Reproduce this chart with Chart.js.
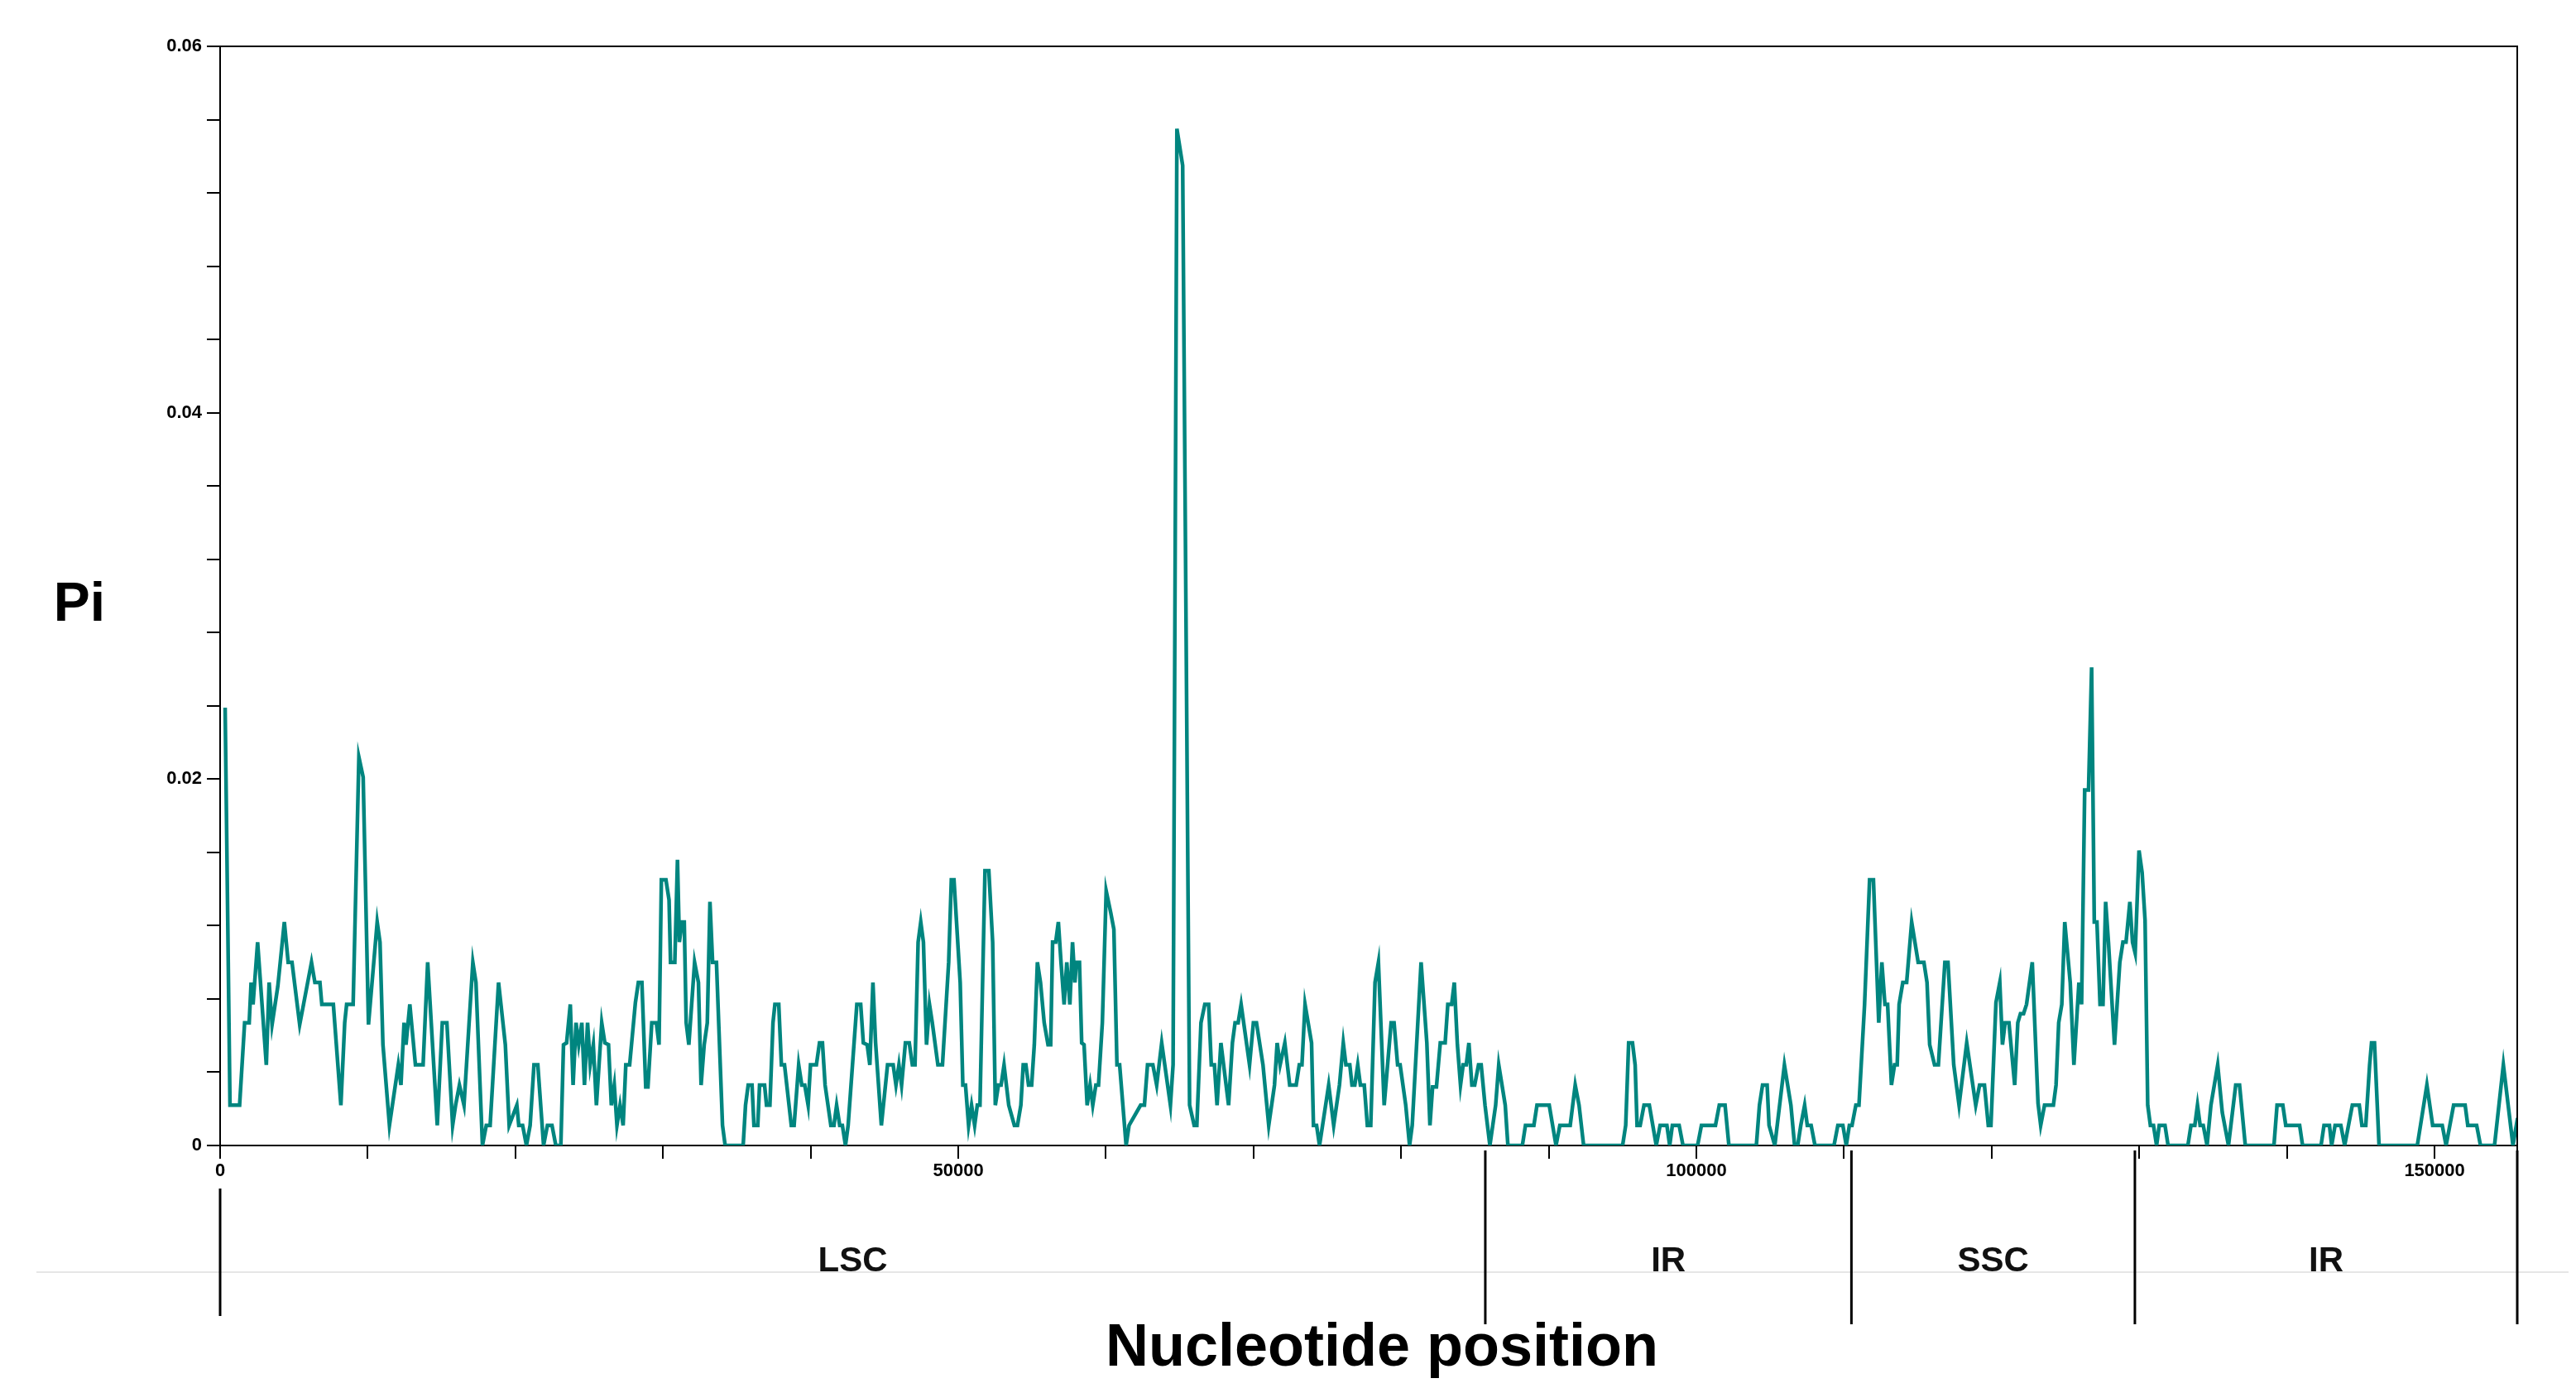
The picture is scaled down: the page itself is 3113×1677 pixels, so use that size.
<!DOCTYPE html>
<html><head><meta charset="utf-8">
<script src="https://cdn.jsdelivr.net/npm/chart.js@4"></script>
<style>html,body{margin:0;padding:0;background:#fff}#wrap{width:3113px;height:1677px;position:relative}</style>
</head><body><div id="wrap"><canvas id="c"></canvas></div>
<script>
// sliding-window nucleotide diversity: position (kb) and Pi
const positionKb = [0.34,0.67,1.32,1.66,1.97,2.10,2.23,2.54,3.13,3.32,3.52,3.91,4.35,4.61,4.87,5.39,5.65,6.19,6.42,6.76,6.89,7.67,8.18,8.44,8.57,9.01,9.40,9.69,10.05,10.64,10.83,11.03,11.47,12.07,12.25,12.46,12.59,12.85,13.23,13.75,14.06,14.71,15.05,15.36,15.75,15.95,16.21,16.52,17.12,17.33,17.77,18.03,18.29,18.86,19.32,19.58,20.10,20.23,20.49,20.75,21.00,21.26,21.52,21.91,22.17,22.48,22.74,23.08,23.26,23.47,23.72,23.91,24.11,24.29,24.50,24.68,24.89,25.07,25.28,25.49,25.85,26.06,26.31,26.50,26.70,26.88,27.09,27.30,27.48,27.74,28.13,28.33,28.57,28.83,28.98,29.24,29.55,29.73,29.89,30.20,30.41,30.51,30.80,30.98,31.11,31.29,31.44,31.57,31.75,32.14,32.40,32.58,32.79,33.00,33.18,33.36,33.62,34.03,34.21,35.43,35.59,35.77,36.03,36.16,36.42,36.54,36.88,37.01,37.24,37.45,37.58,37.84,38.02,38.23,38.69,38.88,39.19,39.40,39.60,39.83,39.99,40.25,
40.39,40.60,40.80,40.98,41.37,41.58,41.76,41.97,42.15,42.36,42.54,43.13,43.39,43.57,43.83,44.01,44.22,44.40,44.79,45.21,45.59,45.78,45.98,46.16,46.42,46.68,46.89,47.07,47.28,47.46,47.64,47.85,48.05,48.24,48.62,48.93,49.35,49.53,49.71,50.13,50.31,50.49,50.70,50.90,51.11,51.29,51.47,51.81,52.07,52.33,52.51,52.72,52.90,53.10,53.42,53.80,54.01,54.24,54.40,54.58,54.76,54.97,55.15,55.36,55.57,55.82,56.08,56.26,56.39,56.60,56.78,56.96,57.17,57.35,57.56,57.74,57.90,58.00,58.21,58.36,58.52,58.73,58.93,59.11,59.32,59.50,59.76,60.02,60.33,60.54,60.75,60.93,61.37,61.57,62.35,62.61,62.82,63.18,63.44,63.78,64.37,64.55,64.81,65.20,65.67,65.98,66.16,66.44,66.70,66.96,67.14,67.35,67.53,67.79,68.31,68.57,68.75,68.96,69.16,69.73,69.99,70.20,70.64,71.03,71.42,71.60,71.80,72.12,72.45,72.89,73.10,73.28,73.49,73.93,74.06,74.27,74.47,75.09,75.43,75.82,76.08,76.26,76.52,76.67,76.86,77.06,77.24,77.50,77.71,77.94,78.23,78.46,78.85,79.32,79.52,79.76,
79.93,80.31,80.57,80.75,81.35,81.74,81.95,82.13,82.39,82.65,82.98,83.16,83.42,83.60,83.81,84.02,84.20,84.41,84.59,84.79,84.98,85.24,85.42,85.68,86.01,86.40,86.61,87.05,87.23,88.21,88.42,88.99,89.20,90.03,90.49,90.75,91.45,91.79,92.05,92.36,95.00,95.21,95.41,95.67,95.85,95.98,96.19,96.45,96.81,97.28,97.54,98.00,98.19,98.37,98.83,99.09,100.08,100.34,101.29,101.55,101.94,102.20,104.06,104.27,104.48,104.79,104.92,105.31,105.96,106.40,106.65,106.86,107.07,107.33,107.51,107.77,108.03,109.32,109.58,109.92,110.15,110.36,110.54,110.80,111.01,111.39,111.73,111.99,112.35,112.56,112.77,112.95,113.21,113.42,113.60,113.73,113.98,114.24,114.58,115.02,115.41,115.62,115.80,116.13,116.39,116.83,117.04,117.43,117.79,118.31,
118.92,119.18,119.51,119.77,119.95,120.29,120.55,120.73,120.91,121.17,121.56,121.77,121.95,122.16,122.36,122.75,123.14,123.32,123.58,124.18,124.36,124.54,124.75,124.95,125.32,125.57,125.91,126.09,126.30,126.56,126.77,126.95,127.13,127.34,127.54,127.72,127.91,128.32,128.68,128.89,129.10,129.36,129.54,129.72,129.98,130.19,130.39,130.57,130.75,130.96,131.17,131.35,131.74,131.95,133.29,133.50,133.76,133.94,134.12,134.33,134.59,134.85,135.31,135.62,136.04,136.53,136.79,137.18,139.12,139.33,139.72,139.92,140.86,141.06,142.31,142.51,142.88,143.03,143.26,143.65,143.91,144.43,144.90,145.08,145.34,145.60,145.73,145.93,146.24,148.83,149.48,149.87,150.52,150.78,151.29,152.07,152.25,152.85,153.11,154.06,154.66,155.31,155.62];
const piValues = [0.0239,0.0022,0.0022,0.0067,0.0067,0.0089,0.0077,0.0111,0.0044,0.0089,0.0066,0.0087,0.0122,0.0100,0.0100,0.0066,0.0077,0.0100,0.0089,0.0089,0.0077,0.0077,0.0022,0.0067,0.0077,0.0077,0.0212,0.0201,0.0066,0.0122,0.0111,0.0055,0.0011,0.0044,0.0033,0.0067,0.0055,0.0077,0.0044,0.0044,0.0100,0.0011,0.0067,0.0067,0.0011,0.0022,0.0033,0.0022,0.0100,0.0089,0,0.0011,0.0011,0.0089,0.0055,0.0011,0.0022,0.0011,0.0011,0,0.0011,0.0044,0.0044,0,0.0011,0.0011,0,0,0.0055,0.0056,0.0077,0.0033,0.0067,0.0055,0.0067,0.0033,0.0067,0.0044,0.0055,0.0022,0.0067,0.0056,0.0055,0.0022,0.0033,0.0011,0.0022,0.0011,0.0044,0.0044,0.0078,0.0089,0.0089,0.0032,0.0032,0.0067,0.0067,0.0055,0.0145,0.0145,0.0134,0.0100,0.0100,0.0156,0.0111,0.0122,0.0122,0.0067,0.0055,0.0100,0.0089,0.0033,0.0055,0.0067,0.0133,0.0100,0.0100,0.0011,0,0,0.0022,0.0033,0.0033,0.0011,0.0011,0.0033,0.0033,0.0022,0.0022,0.0067,0.0077,0.0077,0.0044,0.0044,0.0011,0.0011,0.0044,0.0033,0.0033,0.0022,0.0044,0.0044,
0.0044,0.0056,0.0056,0.0033,0.0011,0.0011,0.0022,0.0011,0.0011,0,0.0011,0.0077,0.0077,0.0056,0.0055,0.0044,0.0089,0.0056,0.0011,0.0044,0.0044,0.0033,0.0044,0.0033,0.0056,0.0056,0.0044,0.0044,0.0111,0.0122,0.0111,0.0055,0.0077,0.0067,0.0044,0.0044,0.0100,0.0145,0.0145,0.0089,0.0033,0.0033,0.0011,0.0022,0.0011,0.0022,0.0022,0.0150,0.0150,0.0111,0.0022,0.0033,0.0033,0.0044,0.0022,0.0011,0.0011,0.0022,0.0044,0.0044,0.0033,0.0033,0.0055,0.0100,0.0089,0.0067,0.0055,0.0055,0.0111,0.0111,0.0122,0.0100,0.0077,0.0100,0.0077,0.0111,0.0089,0.0100,0.0100,0.0056,0.0055,0.0022,0.0033,0.0022,0.0033,0.0033,0.0067,0.0139,0.0127,0.0118,0.0044,0.0044,0,0.0011,0.0022,0.0022,0.0044,0.0044,0.0033,0.0056,0.0022,0.0044,0.0555,0.0535,0.0022,0.0011,0.0011,0.0067,0.0077,0.0077,0.0044,0.0044,0.0022,0.0056,0.0022,0.0056,0.0067,0.0067,0.0077,0.0044,0.0067,0.0067,0.0044,0.0011,0.0033,0.0056,0.0044,0.0056,0.0033,0.0033,0.0044,0.0044,0.0077,0.0056,0.0011,0.0011,0,0.0033,0.0011,0.0033,0.0056,0.0044,0.0044,0.0033,0.0033,0.0044,0.0033,0.0033,0.0011,0.0011,0.0089,0.0100,0.0022,0.0067,0.0067,0.0044,
0.0044,0.0022,0,0.0011,0.0100,0.0056,0.0011,0.0032,0.0032,0.0056,0.0056,0.0077,0.0077,0.0089,0.0055,0.0033,0.0044,0.0044,0.0056,0.0033,0.0033,0.0044,0.0044,0.0022,0,0.0022,0.0044,0.0022,0,0,0.0011,0.0011,0.0022,0.0022,0,0.0011,0.0011,0.0033,0.0022,0,0,0.0011,0.0056,0.0056,0.0044,0.0011,0.0011,0.0022,0.0022,0,0.0011,0.0011,0,0.0011,0.0011,0,0,0.0011,0.0011,0.0022,0.0022,0,0,0.0022,0.0033,0.0033,0.0011,0,0.0044,0.0022,0,0,0.0011,0.0022,0.0011,0.0011,0,0,0.0011,0.0011,0,0.0011,0.0011,0.0022,0.0022,0.0077,0.0145,0.0145,0.0067,0.0100,0.0077,0.0077,0.0033,0.0044,0.0044,0.0077,0.0089,0.0089,0.0122,0.0100,0.0100,0.0089,0.0055,0.0044,0.0044,0.0100,0.0100,0.0044,0.0022,0.0056,
0.0022,0.0033,0.0033,0.0011,0.0011,0.0078,0.0089,0.0055,0.0067,0.0067,0.0033,0.0067,0.0072,0.0072,0.0077,0.0100,0.0023,0.0011,0.0022,0.0022,0.0033,0.0067,0.0077,0.0122,0.0089,0.0044,0.0089,0.0077,0.0194,0.0194,0.0261,0.0122,0.0122,0.0077,0.0077,0.0133,0.0111,0.0055,0.0100,0.0111,0.0111,0.0133,0.0111,0.0105,0.0161,0.0149,0.0123,0.0022,0.0011,0.0011,0,0.0011,0.0011,0,0,0.0011,0.0011,0.0022,0.0011,0.0011,0,0.0022,0.0044,0.0018,0,0.0033,0.0033,0,0,0.0022,0.0022,0.0011,0.0011,0,0,0.0011,0.0011,0,0.0011,0.0011,0,0.0022,0.0022,0.0011,0.0011,0.0044,0.0056,0.0056,0,0,0.0033,0.0011,0.0011,0,0.0022,0.0022,0.0011,0.0011,0,0,0.0044,0,0.0015];
const regionBoundsKb = [0, 85.7, 110.5, 129.7, 155.6];
const regionLabels = ['LSC', 'IR', 'SSC', 'IR'];
const xMajorLabelsKb = [0, 50, 100, 150];
const yMajorLabels = [0, 0.02, 0.04, 0.06];

const points = positionKb.map((x, i) => ({x, y: piValues[i]}));
const FONT = '"Liberation Sans", Arial, sans-serif';

const annot = {
  id: 'annot',
  afterDraw(chart) {
    const ctx = chart.ctx, xs = chart.scales.x, ca = chart.chartArea;
    ctx.save();
    // top & right frame
    ctx.strokeStyle = '#000'; ctx.lineWidth = 2;
    ctx.beginPath(); ctx.moveTo(ca.left, ca.top); ctx.lineTo(ca.right, ca.top); ctx.lineTo(ca.right, ca.bottom); ctx.stroke();
    // faint separator
    ctx.strokeStyle = '#e6e6e6'; ctx.lineWidth = 2;
    ctx.beginPath(); ctx.moveTo(44, 1537); ctx.lineTo(3104, 1537); ctx.stroke();
    // region boundaries
    ctx.strokeStyle = '#000'; ctx.lineWidth = 3;
    regionBoundsKb.forEach((b, i) => {
      const px = xs.getPixelForValue(b);
      ctx.beginPath(); ctx.moveTo(px, i === 0 ? 1436 : 1390); ctx.lineTo(px, i === 0 ? 1590 : 1600); ctx.stroke();
    });
    ctx.fillStyle = '#111'; ctx.font = 'bold 42px ' + FONT;
    ctx.textAlign = 'center'; ctx.textBaseline = 'middle';
    regionLabels.forEach((l, i) => {
      const px = xs.getPixelForValue((regionBoundsKb[i] + regionBoundsKb[i + 1]) / 2);
      ctx.fillText(l, px, 1524);
    });
    ctx.font = 'bold 72px ' + FONT; ctx.fillStyle = '#000';
    ctx.fillText('Nucleotide position', 1670, 1630);
    ctx.font = 'bold 66px ' + FONT;
    ctx.fillText('Pi', 96, 732);
    ctx.restore();
  }
};

new Chart(document.getElementById('c'), {
  type: 'line',
  data: { datasets: [{ data: points, borderColor: '#00857f', borderWidth: 4.5, pointRadius: 0, tension: 0, fill: false }] },
  options: {
    responsive: true, maintainAspectRatio: false, animation: false, devicePixelRatio: 1,
    layout: { padding: { left: 0, top: 56, right: 71, bottom: 253 } },
    plugins: { legend: { display: false }, tooltip: { enabled: false } },
    scales: {
      x: {
        type: 'linear', min: 0, max: regionBoundsKb[4],
        afterFit: s => { s.height = 40; },
        border: { color: '#000', width: 2 },
        grid: { drawOnChartArea: false, tickLength: 16, color: '#000', lineWidth: 2 },
        ticks: { stepSize: 10, autoSkip: false, maxRotation: 0, padding: 2, color: '#000',
          font: { family: FONT, weight: 'bold', size: 22 },
          callback: v => xMajorLabelsKb.includes(Math.round(v * 1000) / 1000) ? String(Math.round(v * 1000)) : '' }
      },
      y: {
        min: 0, max: 0.06,
        afterFit: s => { s.width = 266; },
        border: { color: '#000', width: 2 },
        grid: { drawOnChartArea: false, tickLength: 16, color: '#000', lineWidth: 2 },
        ticks: { stepSize: 0.004, autoSkip: false, padding: 6, color: '#000',
          font: { family: FONT, weight: 'bold', size: 22 },
          callback: v => { const r = Math.round(v * 1000) / 1000; return yMajorLabels.includes(r) ? (r === 0 ? '0' : r.toFixed(2)) : ''; } }
      }
    }
  },
  plugins: [annot]
});
</script></body></html>
